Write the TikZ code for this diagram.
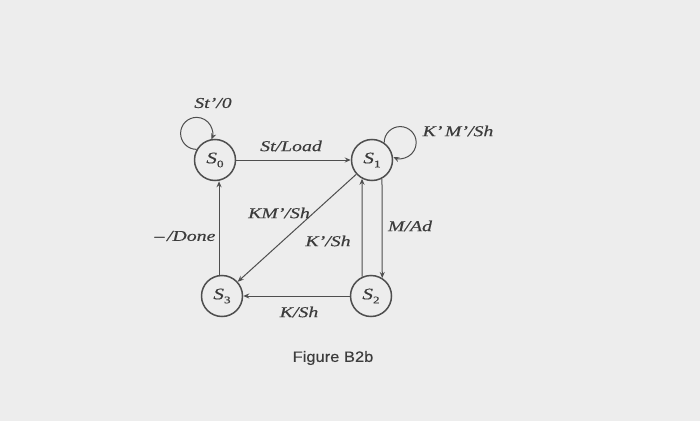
\documentclass[tikz,border=0pt]{standalone}
\usepackage{fontspec}
\newfontfamily\lbl[FakeStretch=1.32,FakeBold=0.4]{Liberation Serif}
\newfontfamily\capfont[FakeStretch=1.1,FakeBold=0.3]{Liberation Sans}
\usetikzlibrary{arrows.meta}
\definecolor{linec}{HTML}{4E4E4E}
\definecolor{txtc}{HTML}{3C3C3C}
\definecolor{bgc}{HTML}{EDEDED}
\begin{document}
\begin{tikzpicture}[x=1pt,y=1pt,
 state/.style={circle,draw=linec,line width=1.5pt,minimum size=41pt,inner sep=0pt,
   font=\lbl\itshape\fontsize{16}{18}\selectfont,text=txtc},
 arr/.style={draw=linec,line width=1pt,-{Stealth[length=6pt,width=5pt]}},
 lab/.style={font=\lbl\itshape\fontsize{15}{17}\selectfont,text=txtc,inner sep=1pt}]
\fill[bgc] (0,0) rectangle (700,421);
\useasboundingbox (0,0) rectangle (700,421);
\newcommand{\st}[1]{S\raisebox{-4pt}{\upshape\fontsize{10}{10}\selectfont #1}}
\node[state] (s0) at (215,261) {\st{0}};
\node[state] (s1) at (372,261) {\st{1}};
\node[state] (s2) at (371,125) {\st{2}};
\node[state] (s3) at (222,125) {\st{3}};
% connectors
\draw[arr] (s0) -- (s1);
\draw[arr] (s1.-62) -- (s2.58);
\draw[arr] (s2.115) -- (s1.-118);
\draw[arr] (s1) -- (s3);
\draw[arr] (s2) -- (s3);
\draw[arr] (s3.98) -- (s3.98 |- s0.south);
\draw[arr] (s0.150) arc[start angle=270, end angle=-22, radius=16];
\draw[arr] (s1.55) arc[start angle=180, end angle=-115, radius=16];
% labels
\node[lab] (l0) at (213,318) {St’/0};
\node[lab] (l1) at (291,275) {St/Load};
\node[lab] (l2) at (458,290) {K’\,M’/Sh};
\node[lab] (l3) at (410,195) {M/Ad};
\node[lab] (l4) at (279,208) {KM’/Sh};
\node[lab] (l5) at (328,180) {K’/Sh};
\node[lab] (l6) at (185,185) {–\,/Done};
\node[lab] (l7) at (299,109) {K/Sh};
\node[font=\capfont\fontsize{15}{17}\selectfont,text=txtc] (cap) at (333,63) {Figure B2b};
\end{tikzpicture}
\end{document}
